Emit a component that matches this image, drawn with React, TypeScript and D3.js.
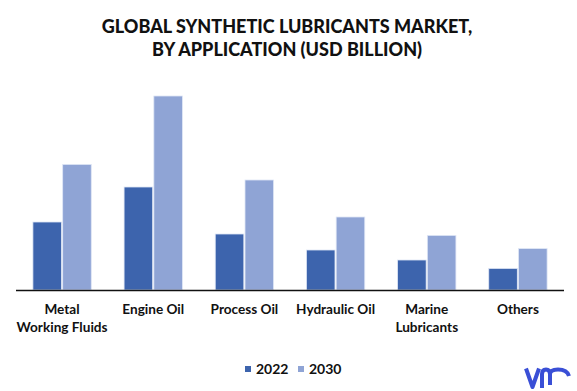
import React from "react";
import * as d3 from "d3";

const categories = [
  ["Metal", "Working Fluids"],
  ["Engine Oil"],
  ["Process Oil"],
  ["Hydraulic Oil"],
  ["Marine", "Lubricants"],
  ["Others"],
];
const seriesNames = ["2022", "2030"];
const values2022 = [3.4, 5.15, 2.8, 2.0, 1.5, 1.08];
const values2030 = [6.28, 9.7, 5.5, 3.65, 2.73, 2.07];
const colors = ["#3d64ad", "#8fa4d5"];

const W = 577;
const H = 391;
const FONT = "Lato, 'Open Sans', sans-serif";

export default function App() {
  const x0 = d3
    .scaleBand<number>()
    .domain(d3.range(categories.length))
    .range([16.5, 563.5])
    .paddingInner(0.36)
    .paddingOuter(0.18);
  const x1 = d3
    .scaleBand<number>()
    .domain([0, 1])
    .range([0, x0.bandwidth()])
    .paddingInner(0.04);
  const y = d3.scaleLinear().domain([0, 10]).range([290, 90]);
  const series = [values2022, values2030];

  return (
    <svg
      width={W}
      height={H}
      style={{ position: "absolute", left: 0, top: 0, background: "#fff" }}
    >
      <text
        x={287}
        y={32.5}
        textAnchor="middle"
        fontFamily={FONT}
        fontWeight={900}
        fontSize={18}
        fill="#111"
      >
        GLOBAL SYNTHETIC LUBRICANTS MARKET,
      </text>
      <text
        x={287}
        y={56}
        textAnchor="middle"
        fontFamily={FONT}
        fontWeight={900}
        fontSize={18}
        fill="#111"
      >
        BY APPLICATION (USD BILLION)
      </text>

      {categories.map((c, i) =>
        series.map((vals, s) => (
          <rect
            key={`${i}-${s}`}
            x={(x0(i) as number) + (x1(s) as number)}
            y={y(vals[i])}
            width={x1.bandwidth()}
            height={y(0) - y(vals[i])}
            fill={colors[s]}
            stroke="#dfe6f5"
            strokeWidth={0.8}
          />
        ))
      )}

      <line x1={16} x2={564} y1={290.5} y2={290.5} stroke="#111" strokeWidth={1.5} />

      {categories.map((lines, i) =>
        lines.map((ln, j) => (
          <text
            key={`${i}-${j}`}
            x={(x0(i) as number) + x0.bandwidth() / 2}
            y={314 + j * 17.5}
            textAnchor="middle"
            fontFamily={FONT}
            fontWeight={700}
            fontSize={13.6}
            fill="#111"
          >
            {ln}
          </text>
        ))
      )}

      {seriesNames.map((n, s) => (
        <g key={n} transform={`translate(${245 + s * 53},0)`}>
          <rect x={0} y={366} width={6} height={6} fill={colors[s]} />
          <text
            x={11}
            y={373.5}
            fontFamily={FONT}
            fontWeight={700}
            fontSize={14}
            fill="#111"
          >
            {n}
          </text>
        </g>
      ))}

      <g fill="none" stroke="#3a4fd6" strokeWidth={4} strokeLinecap="butt" strokeLinejoin="round">
        <path d="M526,368.5 L532.5,387 L539,368.5" />
        <path d="M542,388 L542,374 Q542,369.5 546,369.5 Q550,369.5 550,374 L550,385" />
        <path d="M550,374 Q550,369.5 558,369.5 Q567,369.5 569,376" />
      </g>
    </svg>
  );
}
